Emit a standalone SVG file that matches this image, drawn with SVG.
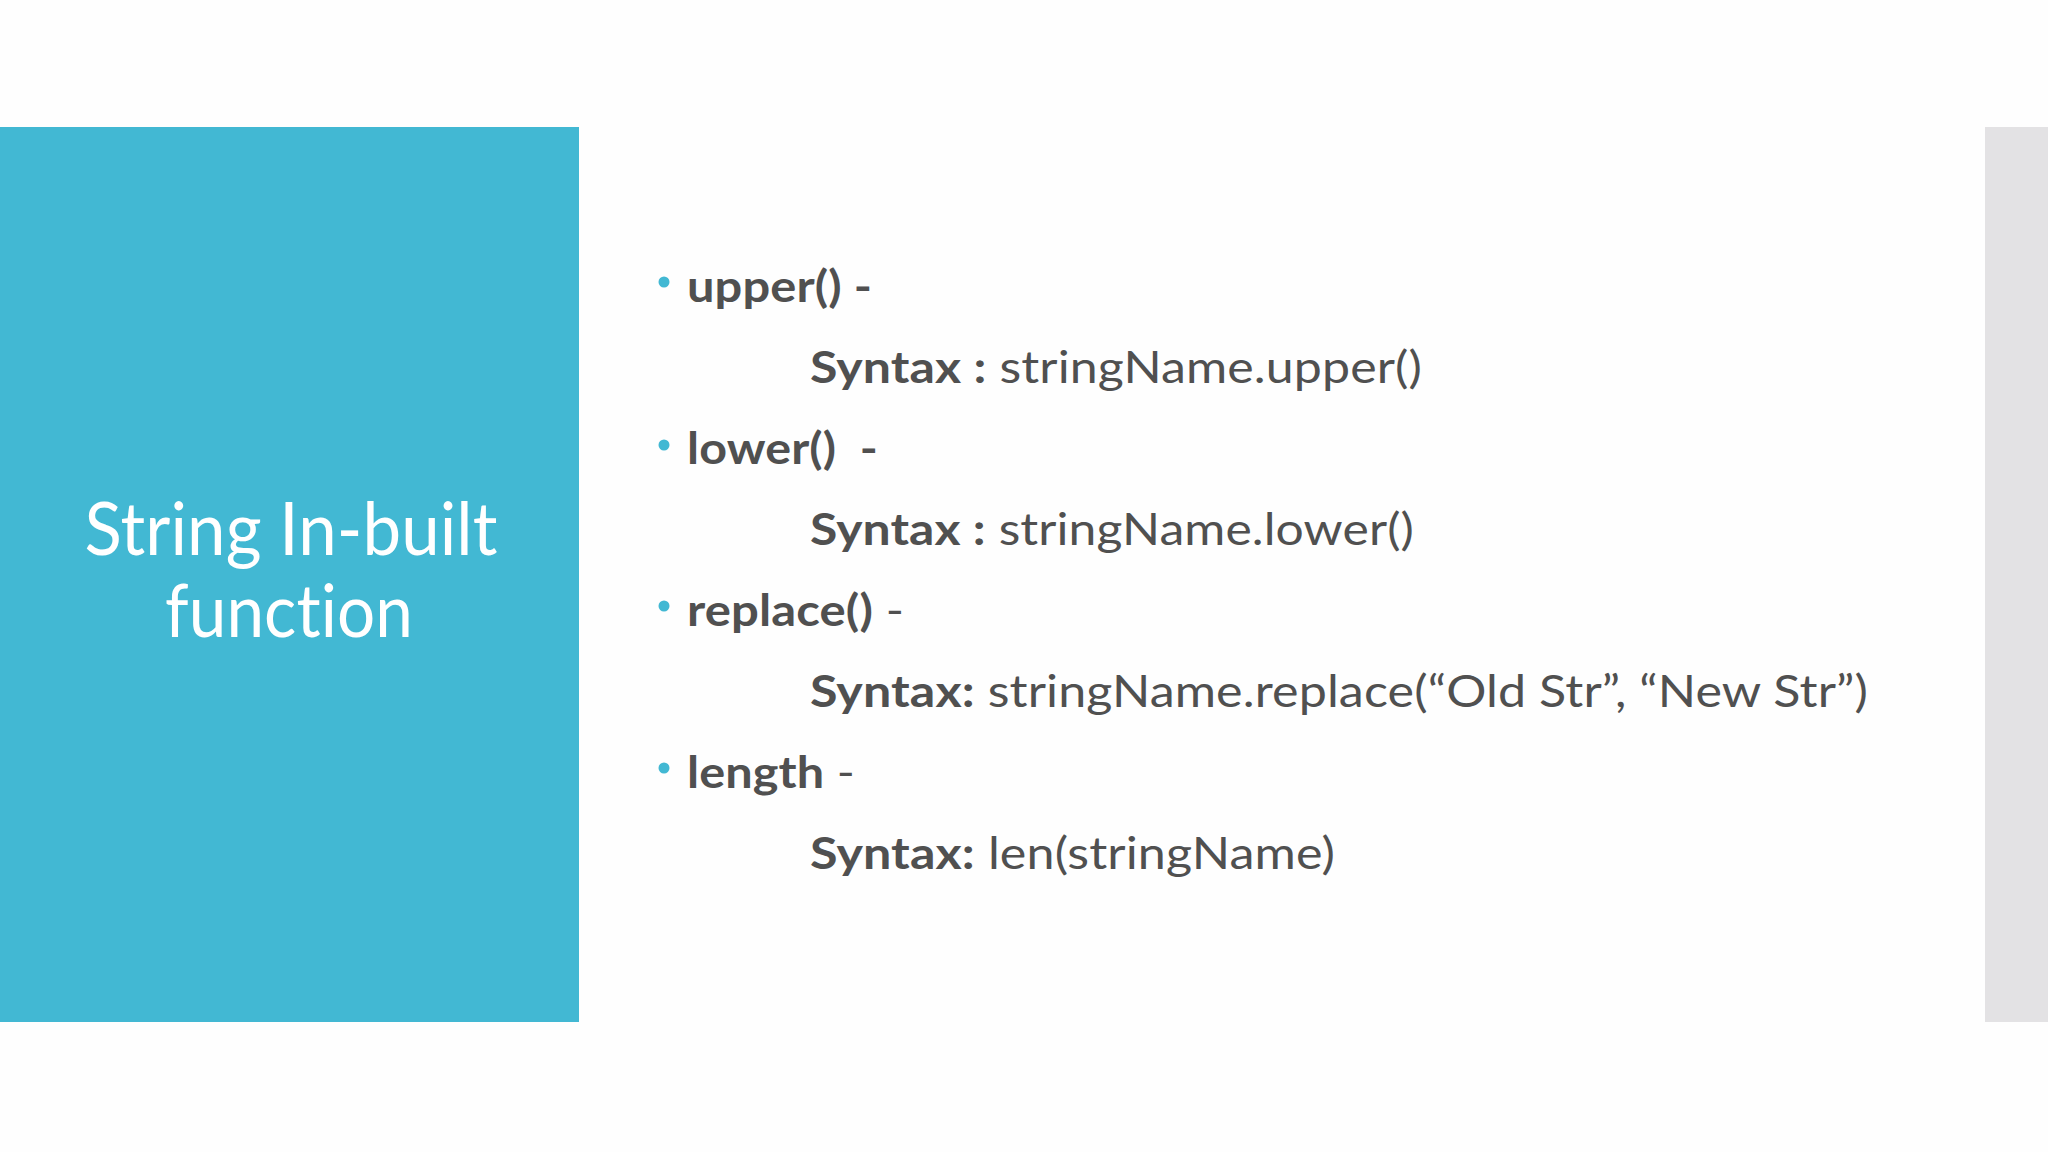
<svg xmlns="http://www.w3.org/2000/svg" width="2048" height="1152" viewBox="0 0 2048 1152">
<style>
.body{font-family:Lato,"Open Sans","Liberation Sans",sans-serif;font-size:44px;fill:#505050;font-variant-ligatures:none;font-feature-settings:"liga" 0,"dlig" 0,"clig" 0;letter-spacing:0.1px;}
.b{font-weight:bold;}
.r{font-weight:normal;}
.title{font-family:Lato,"Open Sans","Liberation Sans",sans-serif;font-weight:normal;font-size:74px;fill:#ffffff;text-anchor:middle;font-variant-ligatures:none;font-feature-settings:"liga" 0,"dlig" 0,"clig" 0;letter-spacing:0.1px;}
.dot{fill:#42b8d3;}
</style>
<rect x="0" y="0" width="2048" height="1152" fill="#fefefe"/>
<g id="title-panel">
<rect x="0" y="127" width="579" height="895" fill="#42b8d3"/>
<text class="title" x="291" y="555" textLength="413" lengthAdjust="spacingAndGlyphs">String In-built</text>
<text class="title" x="289" y="637" textLength="248" lengthAdjust="spacingAndGlyphs">function</text>
</g>
<g id="side-bar">
<rect x="1985" y="127" width="63" height="895" fill="#e3e2e4"/>
</g>
<g id="content">
<g id="item-upper">
<circle class="dot" cx="664" cy="282" r="5.5"/>
<text class="body b" x="687" y="302" textLength="185" lengthAdjust="spacingAndGlyphs">upper() -</text>
<text class="body" x="810" y="383" textLength="612" lengthAdjust="spacingAndGlyphs"><tspan class="b">Syntax :</tspan><tspan class="r"> stringName.upper()</tspan></text>
</g>
<g id="item-lower">
<circle class="dot" cx="664" cy="445" r="5.5"/>
<text class="body b" x="687" y="464" textLength="191" lengthAdjust="spacingAndGlyphs" xml:space="preserve">lower()  -</text>
<text class="body" x="810" y="545" textLength="604" lengthAdjust="spacingAndGlyphs"><tspan class="b">Syntax :</tspan><tspan class="r"> stringName.lower()</tspan></text>
</g>
<g id="item-replace">
<circle class="dot" cx="664" cy="606" r="5.5"/>
<text class="body" x="687" y="626" textLength="217" lengthAdjust="spacingAndGlyphs"><tspan class="b">replace()</tspan><tspan class="r"> -</tspan></text>
<text class="body" x="810" y="707" textLength="1058" lengthAdjust="spacingAndGlyphs"><tspan class="b">Syntax:</tspan><tspan class="r"> stringName.replace(“Old Str”, “New Str”)</tspan></text>
</g>
<g id="item-length">
<circle class="dot" cx="664" cy="768" r="5.5"/>
<text class="body" x="687" y="788" textLength="168" lengthAdjust="spacingAndGlyphs"><tspan class="b">length</tspan><tspan class="r"> -</tspan></text>
<text class="body" x="810" y="869" textLength="525" lengthAdjust="spacingAndGlyphs"><tspan class="b">Syntax:</tspan><tspan class="r"> len(stringName)</tspan></text>
</g>
</g>
</svg>
